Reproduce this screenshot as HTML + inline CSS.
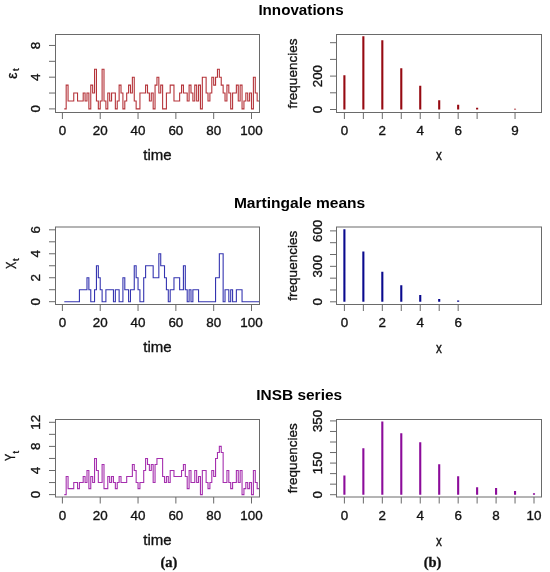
<!DOCTYPE html>
<html><head><meta charset="utf-8"><title>Innovations, Martingale means, INSB series</title>
<style>
html,body{margin:0;padding:0;background:#fff;}
body{width:550px;height:572px;overflow:hidden;}
svg{display:block;}
.box{fill:none;stroke:#6a6a6a;stroke-width:1;}
.ax{fill:none;stroke:#6a6a6a;stroke-width:1;}
text{font-family:"Liberation Sans",Arial,sans-serif;fill:#111;stroke:#111;stroke-width:0.35px;}
.tl{font-size:13.4px;}
.lab{font-size:15px;}
.lab2{font-size:13.5px;}
.sub{font-size:9.2px;}
.ttl{font-size:15.2px;font-weight:bold;stroke-width:0;fill:#000;}
.cap{font-family:"Liberation Serif",serif;font-size:14.5px;font-weight:bold;stroke-width:0.3px;}
</style></head>
<body>
<svg width="550" height="572" viewBox="0 0 550 572">
<rect width="550" height="572" fill="#fff"/>
<rect x="55.5" y="34.5" width="204" height="78" class="box"/>
<path d="M49 108.9H55.5M49 93.04H55.5M49 77.18H55.5M49 61.32H55.5M49 45.46H55.5M62.4 112.5v6.5M100.22 112.5v6.5M138.04 112.5v6.5M175.86 112.5v6.5M213.68 112.5v6.5M251.5 112.5v6.5" class="ax"/>
<path d="M64.29 108.9H66.18V85.11H68.07V100.97H69.96V100.97H71.86V100.97H73.75V93.04H75.64V93.04H77.53V100.97H79.42V100.97H81.31V100.97H83.2V93.04H85.09V100.97H86.98V93.04H88.87V108.9H90.77V85.11H92.66V93.04H94.55V69.25H96.44V100.97H98.33V108.9H100.22V100.97H102.11V69.25H104V100.97H105.89V108.9H107.78V93.04H109.67V100.97H111.57V93.04H113.46V93.04H115.35V108.9H117.24V100.97H119.13V85.11H121.02V93.04H122.91V108.9H124.8V100.97H126.69V93.04H128.59V85.11H130.48V93.04H132.37V77.18H134.26V100.97H136.15V108.9H138.04V108.9H139.93V93.04H141.82V93.04H143.71V93.04H145.6V85.11H147.5V93.04H149.39V100.97H151.28V93.04H153.17V108.9H155.06V85.11H156.95V77.18H158.84V93.04H160.73V85.11H162.62V108.9H164.51V108.9H166.41V93.04H168.3V93.04H170.19V85.11H172.08V85.11H173.97V100.97H175.86V100.97H177.75V100.97H179.64V93.04H181.53V85.11H183.42V93.04H185.31V93.04H187.21V100.97H189.1V85.11H190.99V93.04H192.88V100.97H194.77V85.11H196.66V100.97H198.55V85.11H200.44V108.9H202.33V77.18H204.22V77.18H206.12V93.04H208.01V100.97H209.9V93.04H211.79V77.18H213.68V85.11H215.57V77.18H217.46V69.25H219.35V77.18H221.24V85.11H223.14V93.04H225.03V100.97H226.92V85.11H228.81V93.04H230.7V108.9H232.59V93.04H234.48V93.04H236.37V85.11H238.26V100.97H240.15V85.11H242.05V108.9H243.94V100.97H245.83V93.04H247.72V100.97H249.61V93.04H251.5V108.9H253.39V77.18H255.28V93.04H257.17V100.97H259.06" fill="none" stroke="#b5343a" stroke-width="1.1" clip-path="url(#cl0)"/>
<clipPath id="cl0"><rect x="55.5" y="34.5" width="204" height="78"/></clipPath>
<text class="tl" transform="translate(40.2 108.9) rotate(-90)" text-anchor="middle">0</text>
<text class="tl" transform="translate(40.2 77.18) rotate(-90)" text-anchor="middle">4</text>
<text class="tl" transform="translate(40.2 45.46) rotate(-90)" text-anchor="middle">8</text>
<text class="tl" x="62.4" y="134.5" text-anchor="middle">0</text>
<text class="tl" x="100.22" y="134.5" text-anchor="middle">20</text>
<text class="tl" x="138.04" y="134.5" text-anchor="middle">40</text>
<text class="tl" x="175.86" y="134.5" text-anchor="middle">60</text>
<text class="tl" x="213.68" y="134.5" text-anchor="middle">80</text>
<text class="tl" x="251.5" y="134.5" text-anchor="middle">100</text>
<text class="lab" x="157.5" y="159.7" text-anchor="middle">time</text>
<text class="lab" style="font-size:15.5px" transform="translate(16.6 75.6) rotate(-90) scale(0.89,1)" text-anchor="middle">ε</text>
<text class="sub" transform="translate(19.2 69.65) rotate(-90)" text-anchor="middle">t</text>
<rect x="336.5" y="34.5" width="205" height="78" class="box"/>
<path d="M330 109.5H336.5M330 92.8H336.5M330 76.1H336.5M330 59.4H336.5M330 42.7H336.5M344.4 112.5v6.5M363.36 112.5v6.5M382.32 112.5v6.5M401.28 112.5v6.5M420.24 112.5v6.5M439.2 112.5v6.5M458.16 112.5v6.5M477.12 112.5v6.5M515.04 112.5v6.5" class="ax"/>
<path d="M344.4 109.5V75.27M363.36 109.5V36.35M382.32 109.5V40.36M401.28 109.5V68.25M420.24 109.5V85.79M439.2 109.5V100.31M458.16 109.5V104.66M477.12 109.5V107.66M515.04 109.5V108.67" fill="none" stroke="#960a12" stroke-width="2.1"/>
<text class="tl" transform="translate(322 109.5) rotate(-90)" text-anchor="middle">0</text>
<text class="tl" transform="translate(322 76.1) rotate(-90)" text-anchor="middle">200</text>
<text class="tl" x="344.4" y="134.5" text-anchor="middle">0</text>
<text class="tl" x="382.32" y="134.5" text-anchor="middle">2</text>
<text class="tl" x="420.24" y="134.5" text-anchor="middle">4</text>
<text class="tl" x="458.16" y="134.5" text-anchor="middle">6</text>
<text class="tl" x="515.04" y="134.5" text-anchor="middle">9</text>
<text class="lab" style="font-size:13.8px" transform="translate(439 159.9) scale(0.85,1)" text-anchor="middle">x</text>
<text class="lab2" transform="translate(296.8 73.5) rotate(-90)" text-anchor="middle">frequencies</text>
<rect x="55.5" y="227" width="204" height="77.5" class="box"/>
<path d="M49 301.7H55.5M49 289.72H55.5M49 277.74H55.5M49 265.76H55.5M49 253.78H55.5M49 241.8H55.5M49 229.82H55.5M62.4 304.5v6.5M100.22 304.5v6.5M138.04 304.5v6.5M175.86 304.5v6.5M213.68 304.5v6.5M251.5 304.5v6.5" class="ax"/>
<path d="M64.29 301.7H66.18V301.7H68.07V301.7H69.96V301.7H71.86V301.7H73.75V301.7H75.64V301.7H77.53V301.7H79.42V289.72H81.31V289.72H83.2V289.72H85.09V289.72H86.98V277.74H88.87V289.72H90.77V301.7H92.66V301.7H94.55V289.72H96.44V265.76H98.33V277.74H100.22V289.72H102.11V301.7H104V301.7H105.89V289.72H107.78V289.72H109.67V289.72H111.57V289.72H113.46V301.7H115.35V289.72H117.24V289.72H119.13V301.7H121.02V301.7H122.91V277.74H124.8V289.72H126.69V289.72H128.59V301.7H130.48V289.72H132.37V289.72H134.26V265.76H136.15V277.74H138.04V289.72H139.93V301.7H141.82V301.7H143.71V277.74H145.6V265.76H147.5V265.76H149.39V265.76H151.28V265.76H153.17V277.74H155.06V277.74H156.95V277.74H158.84V253.78H160.73V265.76H162.62V265.76H164.51V277.74H166.41V289.72H168.3V301.7H170.19V289.72H172.08V289.72H173.97V277.74H175.86V277.74H177.75V277.74H179.64V289.72H181.53V289.72H183.42V265.76H185.31V289.72H187.21V301.7H189.1V289.72H190.99V301.7H192.88V289.72H194.77V289.72H196.66V289.72H198.55V301.7H200.44V301.7H202.33V301.7H204.22V301.7H206.12V301.7H208.01V301.7H209.9V301.7H211.79V301.7H213.68V301.7H215.57V277.74H217.46V277.74H219.35V253.78H221.24V253.78H223.14V301.7H225.03V289.72H226.92V289.72H228.81V301.7H230.7V289.72H232.59V301.7H234.48V301.7H236.37V289.72H238.26V289.72H240.15V289.72H242.05V301.7H243.94V301.7H245.83V301.7H247.72V301.7H249.61V301.7H251.5V301.7H253.39V301.7H255.28V301.7H257.17V301.7H259.06" fill="none" stroke="#3434b0" stroke-width="1.1" clip-path="url(#cl1)"/>
<clipPath id="cl1"><rect x="55.5" y="227" width="204" height="77.5"/></clipPath>
<text class="tl" transform="translate(40.2 301.7) rotate(-90)" text-anchor="middle">0</text>
<text class="tl" transform="translate(40.2 277.74) rotate(-90)" text-anchor="middle">2</text>
<text class="tl" transform="translate(40.2 253.78) rotate(-90)" text-anchor="middle">4</text>
<text class="tl" transform="translate(40.2 229.82) rotate(-90)" text-anchor="middle">6</text>
<text class="tl" x="62.4" y="327.2" text-anchor="middle">0</text>
<text class="tl" x="100.22" y="327.2" text-anchor="middle">20</text>
<text class="tl" x="138.04" y="327.2" text-anchor="middle">40</text>
<text class="tl" x="175.86" y="327.2" text-anchor="middle">60</text>
<text class="tl" x="213.68" y="327.2" text-anchor="middle">80</text>
<text class="tl" x="251.5" y="327.2" text-anchor="middle">100</text>
<text class="lab" x="157.5" y="352.4" text-anchor="middle">time</text>
<text class="lab" style="font-size:14.7px" transform="translate(16.0 265.3) rotate(-90) scale(0.75,1)" text-anchor="middle">X</text>
<text class="sub" transform="translate(19.2 259.8) rotate(-90)" text-anchor="middle">t</text>
<rect x="336.5" y="227" width="205" height="77.5" class="box"/>
<path d="M330 301.8H336.5M330 289.98H336.5M330 278.16H336.5M330 266.34H336.5M330 254.52H336.5M330 242.7H336.5M330 230.88H336.5M344.4 304.5v6.5M363.36 304.5v6.5M382.32 304.5v6.5M401.28 304.5v6.5M420.24 304.5v6.5M439.2 304.5v6.5M458.16 304.5v6.5" class="ax"/>
<path d="M344.4 301.8V229.23M363.36 301.8V251.45M382.32 301.8V271.66M401.28 301.8V285.25M420.24 301.8V295.06M439.2 301.8V298.96M458.16 301.8V300.62" fill="none" stroke="#0a0a8e" stroke-width="2.1"/>
<text class="tl" transform="translate(322 301.8) rotate(-90)" text-anchor="middle">0</text>
<text class="tl" transform="translate(322 266.34) rotate(-90)" text-anchor="middle">300</text>
<text class="tl" transform="translate(322 230.88) rotate(-90)" text-anchor="middle">600</text>
<text class="tl" x="344.4" y="327.2" text-anchor="middle">0</text>
<text class="tl" x="382.32" y="327.2" text-anchor="middle">2</text>
<text class="tl" x="420.24" y="327.2" text-anchor="middle">4</text>
<text class="tl" x="458.16" y="327.2" text-anchor="middle">6</text>
<text class="lab" style="font-size:13.8px" transform="translate(439 352.6) scale(0.85,1)" text-anchor="middle">x</text>
<text class="lab2" transform="translate(296.8 265.75) rotate(-90)" text-anchor="middle">frequencies</text>
<rect x="55.5" y="419.5" width="204" height="77.5" class="box"/>
<path d="M49 494.6H55.5M49 482.55H55.5M49 470.5H55.5M49 458.45H55.5M49 446.4H55.5M49 434.35H55.5M49 422.3H55.5M62.4 497v6.5M100.22 497v6.5M138.04 497v6.5M175.86 497v6.5M213.68 497v6.5M251.5 497v6.5" class="ax"/>
<path d="M64.29 494.6H66.18V476.53H68.07V488.58H69.96V488.58H71.86V488.58H73.75V482.55H75.64V482.55H77.53V488.58H79.42V482.55H81.31V482.55H83.2V476.53H85.09V482.55H86.98V470.5H88.87V488.58H90.77V476.53H92.66V482.55H94.55V458.45H96.44V470.5H98.33V482.55H100.22V482.55H102.11V464.48H104V488.58H105.89V488.58H107.78V476.53H109.67V482.55H111.57V476.53H113.46V482.55H115.35V488.58H117.24V482.55H119.13V476.53H121.02V482.55H122.91V482.55H124.8V482.55H126.69V476.53H128.59V476.53H130.48V476.53H132.37V464.48H134.26V470.5H136.15V482.55H138.04V488.58H139.93V482.55H141.82V482.55H143.71V470.5H145.6V458.45H147.5V464.48H149.39V470.5H151.28V464.48H153.17V482.55H155.06V464.48H156.95V458.45H158.84V458.45H160.73V458.45H162.62V476.53H164.51V482.55H166.41V476.53H168.3V482.55H170.19V470.5H172.08V470.5H173.97V476.53H175.86V476.53H177.75V476.53H179.64V476.53H181.53V470.5H183.42V464.48H185.31V476.53H187.21V488.58H189.1V470.5H190.99V482.55H192.88V482.55H194.77V470.5H196.66V482.55H198.55V476.53H200.44V494.6H202.33V470.5H204.22V470.5H206.12V482.55H208.01V488.58H209.9V482.55H211.79V470.5H213.68V476.53H215.57V458.45H217.46V452.43H219.35V446.4H221.24V452.43H223.14V482.55H225.03V482.55H226.92V470.5H228.81V482.55H230.7V488.58H232.59V482.55H234.48V482.55H236.37V470.5H238.26V482.55H240.15V470.5H242.05V494.6H243.94V488.58H245.83V482.55H247.72V488.58H249.61V482.55H251.5V494.6H253.39V470.5H255.28V482.55H257.17V488.58H259.06" fill="none" stroke="#a52fae" stroke-width="1.1" clip-path="url(#cl2)"/>
<clipPath id="cl2"><rect x="55.5" y="419.5" width="204" height="77.5"/></clipPath>
<text class="tl" transform="translate(40.2 494.6) rotate(-90)" text-anchor="middle">0</text>
<text class="tl" transform="translate(40.2 470.5) rotate(-90)" text-anchor="middle">4</text>
<text class="tl" transform="translate(40.2 446.4) rotate(-90)" text-anchor="middle">8</text>
<text class="tl" transform="translate(40.2 422.3) rotate(-90)" text-anchor="middle">12</text>
<text class="tl" x="62.4" y="519.6" text-anchor="middle">0</text>
<text class="tl" x="100.22" y="519.6" text-anchor="middle">20</text>
<text class="tl" x="138.04" y="519.6" text-anchor="middle">40</text>
<text class="tl" x="175.86" y="519.6" text-anchor="middle">60</text>
<text class="tl" x="213.68" y="519.6" text-anchor="middle">80</text>
<text class="tl" x="251.5" y="519.6" text-anchor="middle">100</text>
<text class="lab" x="157.5" y="545.3" text-anchor="middle">time</text>
<text class="lab" style="font-size:14.7px" transform="translate(15.4 457.4) rotate(-90) scale(0.73,1)" text-anchor="middle">Y</text>
<text class="sub" transform="translate(19.0 452.3) rotate(-90)" text-anchor="middle">t</text>
<rect x="336.5" y="419.5" width="205" height="77.5" class="box"/>
<path d="M330 494.7H336.5M330 484.16H336.5M330 473.62H336.5M330 463.08H336.5M330 452.54H336.5M330 442H336.5M330 431.46H336.5M330 420.92H336.5M344.4 497v6.5M363.36 497v6.5M382.32 497v6.5M401.28 497v6.5M420.24 497v6.5M439.2 497v6.5M458.16 497v6.5M477.12 497v6.5M496.08 497v6.5M515.04 497v6.5M534 497v6.5" class="ax"/>
<path d="M344.4 494.7V475.52M363.36 494.7V448.32M382.32 494.7V421.55M401.28 494.7V433.15M420.24 494.7V442.21M439.2 494.7V464.34M458.16 494.7V476.36M477.12 494.7V487.32M496.08 494.7V487.95M515.04 494.7V491.12M534 494.7V493.22" fill="none" stroke="#8c0c9a" stroke-width="2.1"/>
<text class="tl" transform="translate(322 494.7) rotate(-90)" text-anchor="middle">0</text>
<text class="tl" transform="translate(322 463.08) rotate(-90)" text-anchor="middle">150</text>
<text class="tl" transform="translate(322 420.92) rotate(-90)" text-anchor="middle">350</text>
<text class="tl" x="344.4" y="519.6" text-anchor="middle">0</text>
<text class="tl" x="382.32" y="519.6" text-anchor="middle">2</text>
<text class="tl" x="420.24" y="519.6" text-anchor="middle">4</text>
<text class="tl" x="458.16" y="519.6" text-anchor="middle">6</text>
<text class="tl" x="496.08" y="519.6" text-anchor="middle">8</text>
<text class="tl" x="534" y="519.6" text-anchor="middle">10</text>
<text class="lab" style="font-size:13.8px" transform="translate(439 545.5) scale(0.85,1)" text-anchor="middle">x</text>
<text class="lab2" transform="translate(296.8 458.25) rotate(-90)" text-anchor="middle">frequencies</text>
<text class="ttl" x="301.0" y="14.5" style="font-size:15.2px" text-anchor="middle">Innovations</text>
<text class="ttl" x="299.6" y="207.8" style="font-size:15.55px" text-anchor="middle">Martingale means</text>
<text class="ttl" x="299.2" y="400.2" style="font-size:15.45px" text-anchor="middle">INSB series</text>
<text class="cap" x="169" y="567" text-anchor="middle">(a)</text>
<text class="cap" x="432.5" y="567" text-anchor="middle">(b)</text>
</svg>
</body></html>
